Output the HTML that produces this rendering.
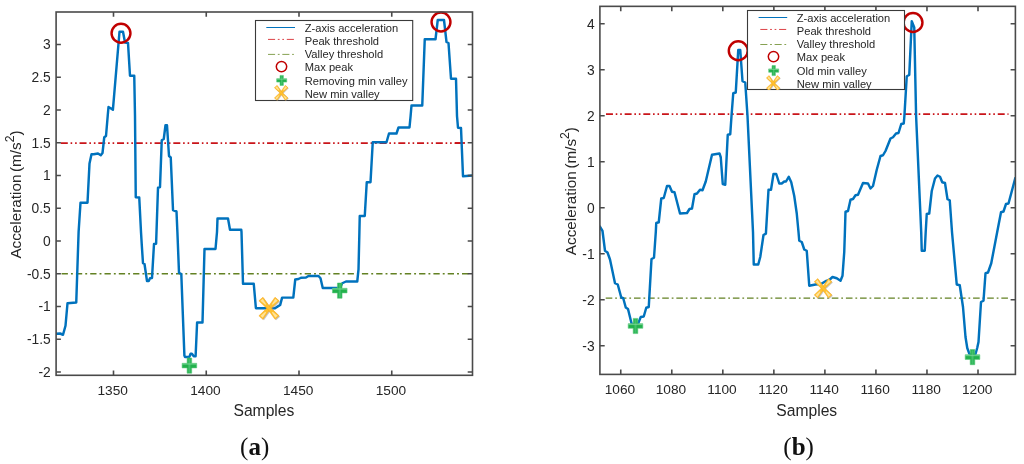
<!DOCTYPE html>
<html lang="en"><head><meta charset="utf-8"><title>Figure</title>
<style>html,body{margin:0;padding:0;background:#fff}body{width:1024px;height:464px;overflow:hidden}svg{display:block;filter:blur(0.35px)}</style>
</head><body>
<svg width="1024" height="464" viewBox="0 0 1024 464" font-family="'Liberation Sans', sans-serif">
<rect width="1024" height="464" fill="#fff"/>
<clipPath id="ca"><rect x="56.1" y="11.0" width="416.4" height="364.3"/></clipPath>
<path d="M60.8,143H463" stroke="#c9141a" stroke-width="1.75" stroke-dasharray="7 2.8 1.6 2.9 1.6 2.85" fill="none"/><path d="M455,143H465" stroke="#c9141a" stroke-width="1.75" fill="none"/>
<path d="M61.6,273.75H469" stroke="#638123" stroke-width="1.35" stroke-dasharray="6.3 3.05 1.9 3.05" fill="none"/>
<polyline points="55.50,333.75 60.00,333.50 63.00,334.75 65.50,325.75 67.50,303.25 76.25,302.50 78.60,232.00 80.50,202.75 87.50,202.75 89.50,163.50 91.50,154.25 93.75,154.25 98.00,153.50 100.75,155.25 102.50,153.00 104.25,137.25 106.00,136.00 107.70,116.00 108.50,107.00 110.25,108.00 112.90,109.80 119.50,31.75 123.00,31.75 125.00,42.50 128.00,43.00 130.00,75.75 134.25,75.75 135.00,116.00 135.75,197.25 139.25,197.50 141.00,232.00 141.75,244.50 143.00,263.25 144.50,264.00 147.00,281.00 148.75,281.00 150.00,278.25 152.00,278.00 154.00,244.00 156.10,243.80 158.00,187.75 160.00,187.00 161.75,140.25 163.75,139.00 165.50,125.25 167.00,125.25 169.00,156.00 170.75,157.50 173.00,210.00 176.50,211.50 177.40,232.00 179.00,272.80 181.30,274.00 184.40,355.60 185.00,356.90 189.40,356.90 190.60,353.75 191.90,353.75 193.75,356.25 195.60,356.25 197.10,322.50 202.50,322.50 204.50,249.00 215.50,249.00 217.00,232.00 217.50,218.50 228.00,218.50 230.00,229.75 241.25,229.75 241.50,232.00 243.00,283.75 253.75,283.75 255.90,308.25 275.00,308.25 280.20,304.90 282.10,297.60 293.30,297.60 295.25,279.50 298.50,279.00 301.00,277.75 306.00,277.50 308.50,276.00 318.50,276.00 320.50,278.25 322.75,288.00 340.00,288.00 342.25,283.25 346.00,281.50 357.25,281.50 358.50,269.50 359.40,232.00 359.75,216.00 364.75,216.00 366.75,182.25 370.50,182.25 372.75,142.25 386.50,142.25 389.00,133.50 396.50,133.50 398.50,127.50 409.50,127.50 410.60,116.00 411.50,105.50 422.25,105.50 424.75,39.25 435.50,39.25 437.75,20.00 444.00,20.00 446.50,42.00 448.50,43.00 451.00,78.75 456.00,78.75 457.00,116.00 458.00,127.75 461.00,128.00 463.00,176.25 472.50,175.50" fill="none" stroke="#0072bd" stroke-width="2.45" stroke-linejoin="round" clip-path="url(#ca)"/>
<circle cx="121" cy="33.25" r="9.45" fill="none" stroke="#c00000" stroke-width="2.45"/>
<circle cx="441" cy="22" r="9.45" fill="none" stroke="#c00000" stroke-width="2.45"/>
<path d="M187.10,358.00h4.6v5.30h5.00v4.6h-5.00v5.30h-4.6v-5.30h-5.00v-4.6h5.00z" fill="#22b14c" stroke="#5cc97e" stroke-width="0.6"/><rect x="188.37" y="358.80" width="2.07" height="13.60" fill="#4cc474" fill-opacity="0.8"/><rect x="182.10" y="363.30" width="14.60" height="1.38" fill="#7fd79b" fill-opacity="0.7"/>
<path d="M337.45,283.00h4.6v5.30h5.00v4.6h-5.00v5.30h-4.6v-5.30h-5.00v-4.6h5.00z" fill="#22b14c" stroke="#5cc97e" stroke-width="0.6"/><rect x="338.71" y="283.80" width="2.07" height="13.60" fill="#4cc474" fill-opacity="0.8"/><rect x="332.45" y="288.30" width="14.60" height="1.38" fill="#7fd79b" fill-opacity="0.7"/>
<g transform="translate(269.00,308.30) scale(1.0)"><path d="M-1.5,0 L-2.7,-12.3 L2.7,-12.3 L1.5,0 L2.7,12.3 L-2.7,12.3 Z" fill="#9a9a9a" fill-opacity="0.55" transform="translate(1,1) rotate(41)"/><path d="M-1.5,0 L-2.7,-12.3 L2.7,-12.3 L1.5,0 L2.7,12.3 L-2.7,12.3 Z" fill="#9a9a9a" fill-opacity="0.55" transform="translate(1,1) rotate(-41)"/><path d="M-1.5,0 L-2.7,-12.3 L2.7,-12.3 L1.5,0 L2.7,12.3 L-2.7,12.3 Z" fill="#ffc12f" stroke="#f7a51c" stroke-width="0.5" transform="rotate(41)"/><path d="M-1.5,0 L-2.7,-12.3 L2.7,-12.3 L1.5,0 L2.7,12.3 L-2.7,12.3 Z" fill="#ffc12f" stroke="#f7a51c" stroke-width="0.5" transform="rotate(-41)"/><path d="M-0.5,-5 L-1.5,-11.3 L1.5,-11.3 L0.5,-5 Z M-0.5,5 L-1.5,11.3 L1.5,11.3 L0.5,5 Z" fill="#ffe39a" transform="rotate(41)"/><path d="M-0.5,-5 L-1.5,-11.3 L1.5,-11.3 L0.5,-5 Z M-0.5,5 L-1.5,11.3 L1.5,11.3 L0.5,5 Z" fill="#ffe39a" transform="rotate(-41)"/></g>
<rect x="56.1" y="12.0" width="416.4" height="363.3" fill="none" stroke="#4a4a4a" stroke-width="1.6"/>
<path d="M113.5,375.3v-4.8M113.5,12.0v4.8" stroke="#4a4a4a" stroke-width="1.6"/>
<text x="112.7" y="394.6" font-size="13.7" text-anchor="middle" fill="#262626" >1350</text>
<path d="M206.25,375.3v-4.8M206.25,12.0v4.8" stroke="#4a4a4a" stroke-width="1.6"/>
<text x="205.45" y="394.6" font-size="13.7" text-anchor="middle" fill="#262626" >1400</text>
<path d="M299.0,375.3v-4.8M299.0,12.0v4.8" stroke="#4a4a4a" stroke-width="1.6"/>
<text x="298.2" y="394.6" font-size="13.7" text-anchor="middle" fill="#262626" >1450</text>
<path d="M391.75,375.3v-4.8M391.75,12.0v4.8" stroke="#4a4a4a" stroke-width="1.6"/>
<text x="390.95" y="394.6" font-size="13.7" text-anchor="middle" fill="#262626" >1500</text>
<path d="M56.1,44.5h4.8M472.5,44.5h-4.8" stroke="#4a4a4a" stroke-width="1.6"/>
<text x="50.800000000000004" y="49.4" font-size="13.8" text-anchor="end" fill="#262626" >3</text>
<path d="M56.1,77.25h4.8M472.5,77.25h-4.8" stroke="#4a4a4a" stroke-width="1.6"/>
<text x="50.800000000000004" y="82.15" font-size="13.8" text-anchor="end" fill="#262626" >2.5</text>
<path d="M56.1,110.0h4.8M472.5,110.0h-4.8" stroke="#4a4a4a" stroke-width="1.6"/>
<text x="50.800000000000004" y="114.9" font-size="13.8" text-anchor="end" fill="#262626" >2</text>
<path d="M56.1,142.75h4.8M472.5,142.75h-4.8" stroke="#4a4a4a" stroke-width="1.6"/>
<text x="50.800000000000004" y="147.65" font-size="13.8" text-anchor="end" fill="#262626" >1.5</text>
<path d="M56.1,175.5h4.8M472.5,175.5h-4.8" stroke="#4a4a4a" stroke-width="1.6"/>
<text x="50.800000000000004" y="180.4" font-size="13.8" text-anchor="end" fill="#262626" >1</text>
<path d="M56.1,208.25h4.8M472.5,208.25h-4.8" stroke="#4a4a4a" stroke-width="1.6"/>
<text x="50.800000000000004" y="213.15" font-size="13.8" text-anchor="end" fill="#262626" >0.5</text>
<path d="M56.1,241.0h4.8M472.5,241.0h-4.8" stroke="#4a4a4a" stroke-width="1.6"/>
<text x="50.800000000000004" y="245.9" font-size="13.8" text-anchor="end" fill="#262626" >0</text>
<path d="M56.1,273.75h4.8M472.5,273.75h-4.8" stroke="#4a4a4a" stroke-width="1.6"/>
<text x="50.800000000000004" y="278.65" font-size="13.8" text-anchor="end" fill="#262626" >-0.5</text>
<path d="M56.1,306.5h4.8M472.5,306.5h-4.8" stroke="#4a4a4a" stroke-width="1.6"/>
<text x="50.800000000000004" y="311.4" font-size="13.8" text-anchor="end" fill="#262626" >-1</text>
<path d="M56.1,339.25h4.8M472.5,339.25h-4.8" stroke="#4a4a4a" stroke-width="1.6"/>
<text x="50.800000000000004" y="344.15" font-size="13.8" text-anchor="end" fill="#262626" >-1.5</text>
<path d="M56.1,372.0h4.8M472.5,372.0h-4.8" stroke="#4a4a4a" stroke-width="1.6"/>
<text x="50.800000000000004" y="376.9" font-size="13.8" text-anchor="end" fill="#262626" >-2</text>
<rect x="255.5" y="20.5" width="157.2" height="80.0" fill="#fff" stroke="#3a3a3a" stroke-width="1.1"/>
<clipPath id="lc255"><rect x="255.5" y="20.5" width="157.2" height="80.5"/></clipPath>
<g clip-path="url(#lc255)">
<text x="304.75" y="31.6" font-size="11.15" text-anchor="start" fill="#262626" >Z-axis acceleration</text>
<text x="304.75" y="44.9" font-size="11.15" text-anchor="start" fill="#262626" >Peak threshold</text>
<text x="304.75" y="58.1" font-size="11.15" text-anchor="start" fill="#262626" >Valley threshold</text>
<text x="304.75" y="71.19999999999999" font-size="11.15" text-anchor="start" fill="#262626" >Max peak</text>
<text x="304.75" y="84.5" font-size="11.15" text-anchor="start" fill="#262626" >Removing min valley</text>
<text x="304.75" y="97.69999999999999" font-size="11.15" text-anchor="start" fill="#262626" >New min valley</text>
<path d="M266.3,27.5H295" stroke="#0072bd" stroke-width="1.15"/>
<path d="M268.0,39.40H294.0" stroke="#dc4146" stroke-width="1.0" stroke-dasharray="7.1 2.7 1.8 2.7 1.7 2.8"/>
<path d="M268.0,54.40H294.0" stroke="#86a152" stroke-width="1.0" stroke-dasharray="7.1 2.7 1.8 2.7"/>
<circle cx="281.5" cy="66.6" r="5.2" fill="none" stroke="#c00000" stroke-width="1.5"/>
<path d="M280.00,75.40h3.4v3.30h3.30v3.4h-3.30v3.30h-3.4v-3.30h-3.30v-3.4h3.30z" fill="#22b14c" stroke="#5cc97e" stroke-width="0.6"/><rect x="280.94" y="76.20" width="1.53" height="8.40" fill="#4cc474" fill-opacity="0.8"/><rect x="276.70" y="78.70" width="10.00" height="1.02" fill="#7fd79b" fill-opacity="0.7"/>
<g transform="translate(281.20,92.80) scale(0.68)"><path d="M-1.5,0 L-2.7,-12.3 L2.7,-12.3 L1.5,0 L2.7,12.3 L-2.7,12.3 Z" fill="#9a9a9a" fill-opacity="0.55" transform="translate(1,1) rotate(41)"/><path d="M-1.5,0 L-2.7,-12.3 L2.7,-12.3 L1.5,0 L2.7,12.3 L-2.7,12.3 Z" fill="#9a9a9a" fill-opacity="0.55" transform="translate(1,1) rotate(-41)"/><path d="M-1.5,0 L-2.7,-12.3 L2.7,-12.3 L1.5,0 L2.7,12.3 L-2.7,12.3 Z" fill="#ffc12f" stroke="#f7a51c" stroke-width="0.5" transform="rotate(41)"/><path d="M-1.5,0 L-2.7,-12.3 L2.7,-12.3 L1.5,0 L2.7,12.3 L-2.7,12.3 Z" fill="#ffc12f" stroke="#f7a51c" stroke-width="0.5" transform="rotate(-41)"/><path d="M-0.5,-5 L-1.5,-11.3 L1.5,-11.3 L0.5,-5 Z M-0.5,5 L-1.5,11.3 L1.5,11.3 L0.5,5 Z" fill="#ffe39a" transform="rotate(41)"/><path d="M-0.5,-5 L-1.5,-11.3 L1.5,-11.3 L0.5,-5 Z M-0.5,5 L-1.5,11.3 L1.5,11.3 L0.5,5 Z" fill="#ffe39a" transform="rotate(-41)"/></g>
</g>
<text x="263.9" y="416.2" font-size="15.65" text-anchor="middle" fill="#262626" >Samples</text>
<text transform="translate(20.7,194.5) rotate(-90)" font-size="15.25" text-anchor="middle" fill="#262626">Acceleration <tspan dx="-1.6">(m/s</tspan><tspan dy="-7" font-size="12.2">2</tspan><tspan dy="7">)</tspan></text>
<text x="254.7" y="455" font-size="25" text-anchor="middle" fill="#111" font-family="'Liberation Serif', serif">(<tspan font-weight="bold">a</tspan>)</text>
<clipPath id="cb"><rect x="599.9" y="5.35" width="415.5" height="369.04999999999995"/></clipPath>
<path d="M606,114H1008.5" stroke="#c9141a" stroke-width="1.75" stroke-dasharray="6.95 2.78 1.59 2.88 1.59 2.865" fill="none"/>
<path d="M605.7,298.1H1008" stroke="#638123" stroke-width="1.35" stroke-dasharray="6.6 2.9 1.75 2.88" fill="none"/>
<polyline points="599.50,226.00 602.50,231.00 605.00,250.75 607.50,252.50 610.00,259.50 615.00,283.25 617.75,284.50 621.25,297.50 623.25,298.25 625.75,307.50 628.00,309.00 631.50,323.25 634.50,325.00 638.25,323.25 640.75,317.00 643.75,316.50 646.25,307.75 648.75,307.00 651.50,259.00 654.00,257.75 655.80,232.00 656.25,223.00 658.75,222.25 661.25,198.50 663.75,198.00 667.00,186.00 669.50,186.00 672.00,191.75 674.50,192.25 680.00,213.50 687.00,213.00 689.50,209.00 692.00,208.50 694.50,194.25 697.00,193.50 700.00,189.75 702.50,190.25 705.75,181.50 712.00,154.75 719.50,153.50 720.75,157.25 722.75,184.00 725.25,184.75 727.75,134.75 730.25,134.25 731.50,116.00 733.25,93.25 735.75,92.50 738.25,50.00 740.25,50.00 742.50,81.25 745.25,82.50 747.50,116.00 753.00,232.00 753.75,264.50 758.25,264.50 760.25,257.00 763.50,235.00 765.90,233.60 768.50,189.75 771.00,189.75 773.50,174.00 776.25,174.00 779.25,183.50 781.75,183.50 784.25,181.50 786.00,181.50 788.75,176.75 791.25,182.25 794.25,196.00 796.75,213.50 798.50,232.00 799.25,240.75 801.75,242.00 804.25,249.50 806.75,250.75 809.25,285.75 815.50,284.50 821.00,284.00 825.50,281.25 829.25,280.00 832.50,277.00 836.75,278.25 840.50,280.75 842.50,275.75 844.25,252.00 844.90,232.00 845.50,211.75 848.00,211.00 850.50,199.75 853.00,199.00 855.50,195.25 858.00,194.75 863.00,183.00 868.00,183.50 870.50,188.50 873.00,186.00 876.75,169.75 880.50,156.00 883.00,155.25 885.50,151.00 890.50,138.50 893.00,137.25 896.00,133.50 898.50,133.00 901.25,124.00 903.75,123.50 904.40,116.00 906.75,76.25 909.25,75.00 911.75,21.25 914.25,27.50 916.10,116.00 921.20,232.00 921.75,250.75 924.75,250.75 925.70,232.00 926.75,214.00 929.25,213.50 931.75,191.00 935.00,178.50 937.50,175.50 940.00,176.75 942.25,182.25 945.00,183.00 947.50,199.25 949.75,200.25 952.00,232.00 956.75,284.50 959.75,285.25 963.00,307.00 965.50,337.00 967.25,348.00 969.25,353.50 972.50,355.00 975.50,354.00 977.20,348.00 978.50,342.00 981.00,302.00 983.50,300.75 985.50,273.25 988.00,272.50 991.25,263.25 997.20,232.00 1001.00,212.25 1003.50,211.50 1006.00,204.00 1008.50,203.50 1015.50,177.25" fill="none" stroke="#0072bd" stroke-width="2.45" stroke-linejoin="round" clip-path="url(#cb)"/>
<circle cx="738.25" cy="50.75" r="9.45" fill="none" stroke="#c00000" stroke-width="2.45"/>
<circle cx="913" cy="22.5" r="9.45" fill="none" stroke="#c00000" stroke-width="2.45"/>
<path d="M633.20,318.40h4.6v5.30h5.00v4.6h-5.00v5.30h-4.6v-5.30h-5.00v-4.6h5.00z" fill="#22b14c" stroke="#5cc97e" stroke-width="0.6"/><rect x="634.47" y="319.20" width="2.07" height="13.60" fill="#4cc474" fill-opacity="0.8"/><rect x="628.20" y="323.70" width="14.60" height="1.38" fill="#7fd79b" fill-opacity="0.7"/>
<path d="M970.20,349.50h4.6v5.30h5.00v4.6h-5.00v5.30h-4.6v-5.30h-5.00v-4.6h5.00z" fill="#22b14c" stroke="#5cc97e" stroke-width="0.6"/><rect x="971.47" y="350.30" width="2.07" height="13.60" fill="#4cc474" fill-opacity="0.8"/><rect x="965.20" y="354.80" width="14.60" height="1.38" fill="#7fd79b" fill-opacity="0.7"/>
<g transform="translate(823.10,288.30) scale(0.88)"><path d="M-1.5,0 L-2.7,-12.3 L2.7,-12.3 L1.5,0 L2.7,12.3 L-2.7,12.3 Z" fill="#9a9a9a" fill-opacity="0.55" transform="translate(1,1) rotate(41)"/><path d="M-1.5,0 L-2.7,-12.3 L2.7,-12.3 L1.5,0 L2.7,12.3 L-2.7,12.3 Z" fill="#9a9a9a" fill-opacity="0.55" transform="translate(1,1) rotate(-41)"/><path d="M-1.5,0 L-2.7,-12.3 L2.7,-12.3 L1.5,0 L2.7,12.3 L-2.7,12.3 Z" fill="#ffc12f" stroke="#f7a51c" stroke-width="0.5" transform="rotate(41)"/><path d="M-1.5,0 L-2.7,-12.3 L2.7,-12.3 L1.5,0 L2.7,12.3 L-2.7,12.3 Z" fill="#ffc12f" stroke="#f7a51c" stroke-width="0.5" transform="rotate(-41)"/><path d="M-0.5,-5 L-1.5,-11.3 L1.5,-11.3 L0.5,-5 Z M-0.5,5 L-1.5,11.3 L1.5,11.3 L0.5,5 Z" fill="#ffe39a" transform="rotate(41)"/><path d="M-0.5,-5 L-1.5,-11.3 L1.5,-11.3 L0.5,-5 Z M-0.5,5 L-1.5,11.3 L1.5,11.3 L0.5,5 Z" fill="#ffe39a" transform="rotate(-41)"/></g>
<rect x="599.9" y="6.35" width="415.5" height="368.04999999999995" fill="none" stroke="#4a4a4a" stroke-width="1.6"/>
<path d="M620.75,374.4v-4.8M620.75,6.35v4.8" stroke="#4a4a4a" stroke-width="1.6"/>
<text x="619.95" y="393.7" font-size="13.7" text-anchor="middle" fill="#262626" >1060</text>
<path d="M671.7860000000001,374.4v-4.8M671.7860000000001,6.35v4.8" stroke="#4a4a4a" stroke-width="1.6"/>
<text x="670.9860000000001" y="393.7" font-size="13.7" text-anchor="middle" fill="#262626" >1080</text>
<path d="M722.822,374.4v-4.8M722.822,6.35v4.8" stroke="#4a4a4a" stroke-width="1.6"/>
<text x="722.022" y="393.7" font-size="13.7" text-anchor="middle" fill="#262626" >1100</text>
<path d="M773.858,374.4v-4.8M773.858,6.35v4.8" stroke="#4a4a4a" stroke-width="1.6"/>
<text x="773.058" y="393.7" font-size="13.7" text-anchor="middle" fill="#262626" >1120</text>
<path d="M824.894,374.4v-4.8M824.894,6.35v4.8" stroke="#4a4a4a" stroke-width="1.6"/>
<text x="824.094" y="393.7" font-size="13.7" text-anchor="middle" fill="#262626" >1140</text>
<path d="M875.9300000000001,374.4v-4.8M875.9300000000001,6.35v4.8" stroke="#4a4a4a" stroke-width="1.6"/>
<text x="875.1300000000001" y="393.7" font-size="13.7" text-anchor="middle" fill="#262626" >1160</text>
<path d="M926.966,374.4v-4.8M926.966,6.35v4.8" stroke="#4a4a4a" stroke-width="1.6"/>
<text x="926.166" y="393.7" font-size="13.7" text-anchor="middle" fill="#262626" >1180</text>
<path d="M978.002,374.4v-4.8M978.002,6.35v4.8" stroke="#4a4a4a" stroke-width="1.6"/>
<text x="977.202" y="393.7" font-size="13.7" text-anchor="middle" fill="#262626" >1200</text>
<path d="M599.9,23.75h4.8M1015.4,23.75h-4.8" stroke="#4a4a4a" stroke-width="1.6"/>
<text x="594.6" y="28.65" font-size="13.8" text-anchor="end" fill="#262626" >4</text>
<path d="M599.9,69.75h4.8M1015.4,69.75h-4.8" stroke="#4a4a4a" stroke-width="1.6"/>
<text x="594.6" y="74.65" font-size="13.8" text-anchor="end" fill="#262626" >3</text>
<path d="M599.9,115.75h4.8M1015.4,115.75h-4.8" stroke="#4a4a4a" stroke-width="1.6"/>
<text x="594.6" y="120.65" font-size="13.8" text-anchor="end" fill="#262626" >2</text>
<path d="M599.9,161.75h4.8M1015.4,161.75h-4.8" stroke="#4a4a4a" stroke-width="1.6"/>
<text x="594.6" y="166.65" font-size="13.8" text-anchor="end" fill="#262626" >1</text>
<path d="M599.9,207.75h4.8M1015.4,207.75h-4.8" stroke="#4a4a4a" stroke-width="1.6"/>
<text x="594.6" y="212.65" font-size="13.8" text-anchor="end" fill="#262626" >0</text>
<path d="M599.9,253.75h4.8M1015.4,253.75h-4.8" stroke="#4a4a4a" stroke-width="1.6"/>
<text x="594.6" y="258.65" font-size="13.8" text-anchor="end" fill="#262626" >-1</text>
<path d="M599.9,299.75h4.8M1015.4,299.75h-4.8" stroke="#4a4a4a" stroke-width="1.6"/>
<text x="594.6" y="304.65" font-size="13.8" text-anchor="end" fill="#262626" >-2</text>
<path d="M599.9,345.75h4.8M1015.4,345.75h-4.8" stroke="#4a4a4a" stroke-width="1.6"/>
<text x="594.6" y="350.65" font-size="13.8" text-anchor="end" fill="#262626" >-3</text>
<rect x="747.5" y="10.5" width="157.0" height="79.0" fill="#fff" stroke="#3a3a3a" stroke-width="1.1"/>
<clipPath id="lc747"><rect x="747.5" y="10.5" width="157.0" height="79.5"/></clipPath>
<g clip-path="url(#lc747)">
<text x="796.75" y="21.700000000000003" font-size="11.15" text-anchor="start" fill="#262626" >Z-axis acceleration</text>
<text x="796.75" y="34.95" font-size="11.15" text-anchor="start" fill="#262626" >Peak threshold</text>
<text x="796.75" y="48.2" font-size="11.15" text-anchor="start" fill="#262626" >Valley threshold</text>
<text x="796.75" y="61.2" font-size="11.15" text-anchor="start" fill="#262626" >Max peak</text>
<text x="796.75" y="74.69999999999999" font-size="11.15" text-anchor="start" fill="#262626" >Old min valley</text>
<text x="796.75" y="87.94999999999999" font-size="11.15" text-anchor="start" fill="#262626" >New min valley</text>
<path d="M758.6,17.5H787.2" stroke="#0072bd" stroke-width="1.15"/>
<path d="M760.3000000000001,29.45H786.2" stroke="#dc4146" stroke-width="1.0" stroke-dasharray="7.1 2.7 1.8 2.7 1.7 2.8"/>
<path d="M760.3000000000001,44.50H786.2" stroke="#86a152" stroke-width="1.0" stroke-dasharray="7.1 2.7 1.8 2.7"/>
<circle cx="773.5" cy="56.6" r="5.2" fill="none" stroke="#c00000" stroke-width="1.5"/>
<path d="M772.00,65.60h3.4v3.30h3.30v3.4h-3.30v3.30h-3.4v-3.30h-3.30v-3.4h3.30z" fill="#22b14c" stroke="#5cc97e" stroke-width="0.6"/><rect x="772.94" y="66.40" width="1.53" height="8.40" fill="#4cc474" fill-opacity="0.8"/><rect x="768.70" y="68.90" width="10.00" height="1.02" fill="#7fd79b" fill-opacity="0.7"/>
<g transform="translate(773.20,83.05) scale(0.68)"><path d="M-1.5,0 L-2.7,-12.3 L2.7,-12.3 L1.5,0 L2.7,12.3 L-2.7,12.3 Z" fill="#9a9a9a" fill-opacity="0.55" transform="translate(1,1) rotate(41)"/><path d="M-1.5,0 L-2.7,-12.3 L2.7,-12.3 L1.5,0 L2.7,12.3 L-2.7,12.3 Z" fill="#9a9a9a" fill-opacity="0.55" transform="translate(1,1) rotate(-41)"/><path d="M-1.5,0 L-2.7,-12.3 L2.7,-12.3 L1.5,0 L2.7,12.3 L-2.7,12.3 Z" fill="#ffc12f" stroke="#f7a51c" stroke-width="0.5" transform="rotate(41)"/><path d="M-1.5,0 L-2.7,-12.3 L2.7,-12.3 L1.5,0 L2.7,12.3 L-2.7,12.3 Z" fill="#ffc12f" stroke="#f7a51c" stroke-width="0.5" transform="rotate(-41)"/><path d="M-0.5,-5 L-1.5,-11.3 L1.5,-11.3 L0.5,-5 Z M-0.5,5 L-1.5,11.3 L1.5,11.3 L0.5,5 Z" fill="#ffe39a" transform="rotate(41)"/><path d="M-0.5,-5 L-1.5,-11.3 L1.5,-11.3 L0.5,-5 Z M-0.5,5 L-1.5,11.3 L1.5,11.3 L0.5,5 Z" fill="#ffe39a" transform="rotate(-41)"/></g>
</g>
<text x="806.75" y="415.8" font-size="15.65" text-anchor="middle" fill="#262626" >Samples</text>
<text transform="translate(575.8,191.1) rotate(-90)" font-size="15.25" text-anchor="middle" fill="#262626">Acceleration <tspan dx="-1.6">(m/s</tspan><tspan dy="-7" font-size="12.2">2</tspan><tspan dy="7">)</tspan></text>
<text x="798.6" y="455" font-size="25" text-anchor="middle" fill="#111" font-family="'Liberation Serif', serif">(<tspan font-weight="bold">b</tspan>)</text>
</svg>
</body></html>
